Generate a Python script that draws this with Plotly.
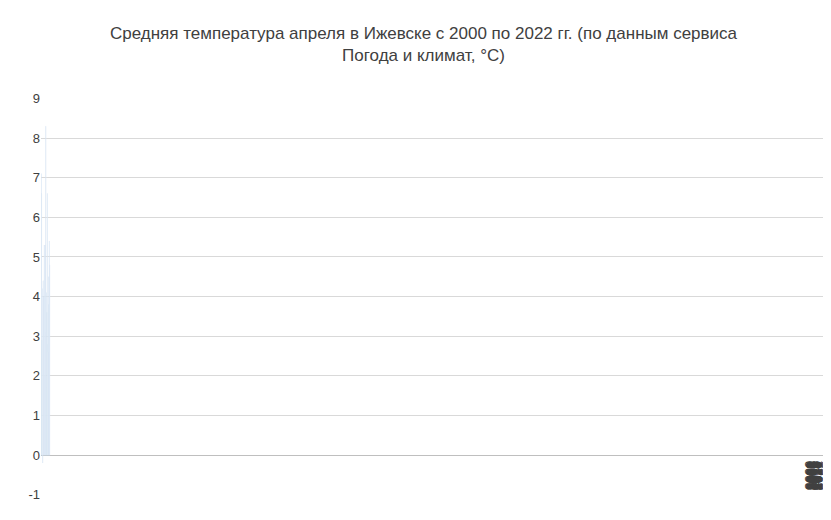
import plotly.graph_objects as go

years = [str(y) for y in range(2000, 2023)]
temps = [7.1, 6.6, 2.9, 4.2, -0.2, 4.4, 4.0, 4.0, 5.3, 2.0, 5.3, 3.1, 8.3,
         4.1, 1.7, 3.6, 6.6, 2.8, 2.6, 3.8, 4.5, 5.4, 4.8]
y_ticks = list(range(-1, 10))
title = "Средняя температура апреля в Ижевске с 2000 по 2022 гг. (по данным сервиса<br>Погода и климат, °C)"

fig = go.Figure(go.Bar(x=years, y=temps, marker_color="#5B9BD5", width=0.4))

# year labels sit just under the zero line, like in Excel
for yr in years:
    fig.add_annotation(x=yr, y=0, text=yr, showarrow=False, textangle=-90,
                       yanchor="top", yshift=-4,
                       font=dict(size=13, color="#404040"))

fig.update_layout(
    width=831, height=520,
    paper_bgcolor="white", plot_bgcolor="white",
    margin=dict(l=33, r=11, t=90, b=33),
    font=dict(family="Liberation Sans, Arial", color="#404040"),
    title=dict(text=title, x=0.5, xanchor="center", y=0.94, yanchor="top",
               font=dict(size=17, color="#404040")),
    showlegend=False,
)
fig.update_xaxes(type="category", showticklabels=False, showgrid=False, showline=False)
fig.update_yaxes(range=[-1.005, 9.01], tickvals=y_ticks, ticktext=[str(v) for v in y_ticks],
                 showgrid=True, gridcolor="#D9D9D9",
                 zeroline=True, zerolinecolor="#BFBFBF", zerolinewidth=1,
                 tickfont=dict(size=13, color="#404040"), ticks="", ticklen=0)

fig.write_html("out.html")
